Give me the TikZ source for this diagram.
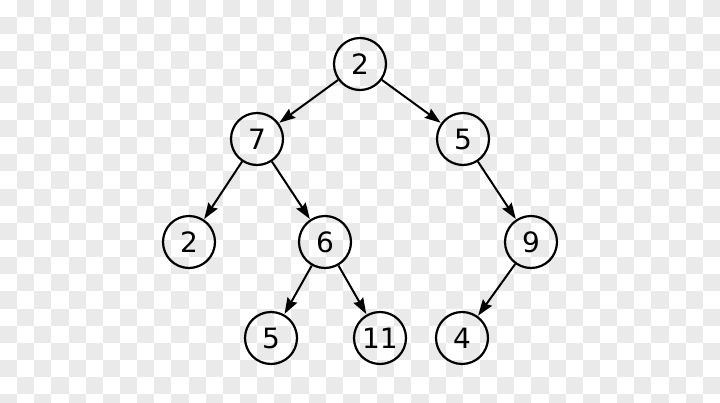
\documentclass[tikz,border=0pt]{standalone}
\usepackage{fontspec}
\setmainfont{DejaVu Sans}
\usetikzlibrary{arrows.meta}
\definecolor{checkgray}{RGB}{234,234,234}
\begin{document}
\begin{tikzpicture}[x=1pt,y=-1pt,
  treenode/.style={circle,draw=black,line width=2.2pt,minimum size=52pt,inner sep=0pt,font=\fontsize{28}{31}\selectfont},
  edge/.style={line width=2pt,-{Stealth[length=16pt,width=11pt,inset=2pt]},shorten >=0.5pt}]
\useasboundingbox (0,0) rectangle (720,402);
\fill[white] (0,0) rectangle (720,402);
\foreach \i in {0,...,41}{
  \foreach \j in {0,...,23}{
    \pgfmathtruncatemacro{\cpar}{mod(\i+\j,2)}
    \ifnum\cpar=1
      \fill[checkgray] ({\i*17.143},{\j*17.143}) rectangle ({(\i+1)*17.143},{(\j+1)*17.143});
    \fi
  }
}
\node[treenode] (r) at (360,64) {2};
\node[treenode] (a) at (257,139) {7};
\node[treenode] (b) at (463,139) {5};
\node[treenode] (c) at (189,242) {2};
\node[treenode] (d) at (325,242) {6};
\node[treenode] (e) at (531,242) {9};
\node[treenode] (f) at (271,338) {5};
\node[treenode] (g) at (380,338) {11};
\node[treenode] (h) at (462,338) {4};
\draw[edge] (r) -- (a);
\draw[edge] (r) -- (b);
\draw[edge] (a) -- (c);
\draw[edge] (a) -- (d);
\draw[edge] (b) -- (e);
\draw[edge] (d) -- (f);
\draw[edge] (d) -- (g);
\draw[edge] (e) -- (h);
\end{tikzpicture}
\end{document}
